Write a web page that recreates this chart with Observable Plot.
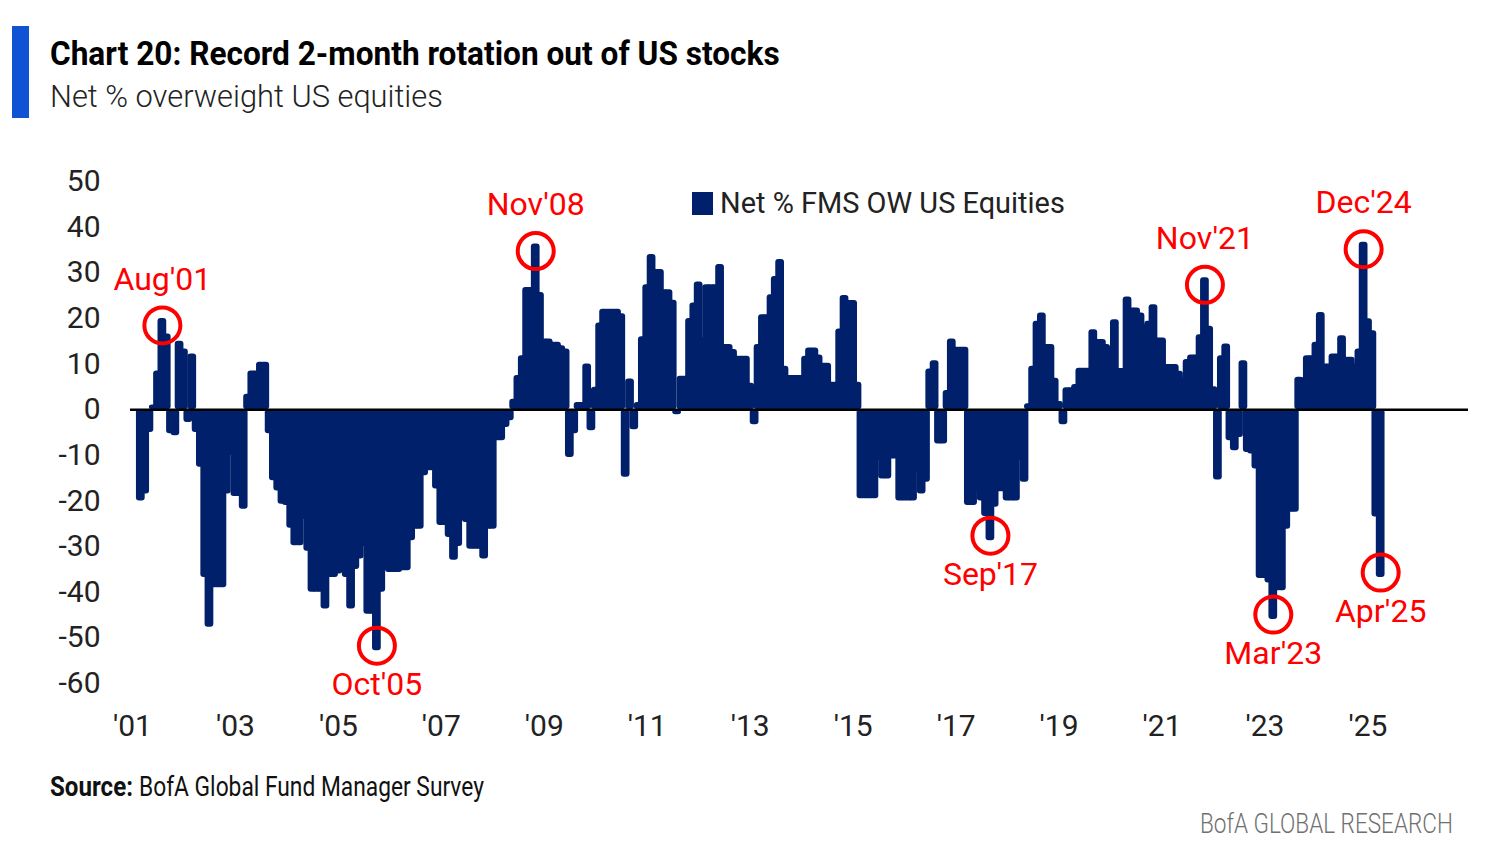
<!DOCTYPE html>
<html>
<head>
<meta charset="utf-8">
<script src="https://cdn.jsdelivr.net/npm/d3@7"></script>
<script src="https://cdn.jsdelivr.net/npm/@observablehq/plot@0.6"></script>
<style>
  html, body { margin: 0; padding: 0; background: #fff; }
  #page { position: relative; width: 1487px; height: 851px; overflow: hidden; font-family: Roboto, "Noto Sans", sans-serif; }
  #header { position: absolute; left: 0; top: 0; }
  #chart { position: absolute; left: 0; top: 140px; }
  #legend { position: absolute; left: 0; top: 170px; }
  #footer { position: absolute; left: 0; top: 760px; }
  svg text { font-family: Roboto, "Noto Sans", sans-serif; }
</style>
</head>
<body>
<div id="page">
  <svg id="header" width="1487" height="130">
    <rect x="12" y="26" width="17" height="92" fill="#0f52d3"></rect>
    <text id="t-title" data-x="50" data-y="65" data-w="730" font-size="34" font-weight="700" fill="#000">Chart 20: Record 2-month rotation out of US stocks</text>
    <text id="t-sub" data-x="50" data-y="107" data-w="393" font-size="31" font-weight="300" fill="#222">Net % overweight US equities</text>
  </svg>
  <div id="chart"></div>
  <svg id="legend" width="1487" height="60">
    <rect x="692" y="22" width="21" height="23" fill="#00206b"></rect>
    <text id="t-legend" data-x="720" data-y="43" data-w="345" font-size="30" fill="#222">Net % FMS OW US Equities</text>
  </svg>
  <svg id="footer" width="1487" height="91">
    <text id="t-src1" data-x="50" data-y="36" data-w="83" font-size="28" font-weight="700" fill="#111">Source:</text>
    <text id="t-src2" data-x="139" data-y="36" data-w="345" font-size="28" fill="#111">BofA Global Fund Manager Survey</text>
    <text id="t-brand" data-x="1200" data-y="73" data-w="253" font-size="28" font-weight="300" fill="#707070">BofA GLOBAL RESEARCH</text>
  </svg>
</div>
<script>
// Net % FMS OW US Equities, monthly, first value = March 2001
const firstYear = 2001;
const firstMonthIndex = 2; // March
const monthlyValues = [
  /* 2001 */ -20, -18.5, -5, 1, 8.5, 20, 16.6, -5.3, -5.7, 15,
  /* 2002 */ 13.3, -2.8, 12.2, -5, -12.6, -36.8, -47.7, -39, -39, -39, -18.5, -10,
  /* 2003 */ -19, -19, -21.8, 3.4, 8.5, 8.5, 10.4, 10.4, -5.3, -15.6, -17.8, -20.7,
  /* 2004 */ -21, -26, -29.8, -29.8, -24, -31, -40, -40, -40, -43.7, -36.8, -36.8,
  /* 2005 */ -36, -30, -36.8, -43.7, -35, -32.7, -30, -44.8, -44.8, -52.8, -40, -33,
  /* 2006 */ -35.7, -35.7, -35.7, -35.3, -35.3, -28.7, -26.2, -26.2, -14.5, -13.4, -13.4, -17.4,
  /* 2007 */ -25.4, -25.4, -28, -33, -30, -22.9, -24.7, -30.6, -30.6, -30.6, -32.7, -26.2,
  /* 2008 */ -26.2, -6.8, -6.8, -3.9, -2.4, 2.3, 7.5, 11.8, 26.8, 26.8, 36.3, 25.7,
  /* 2009 */ 15.5, 15.5, 14.8, 14.8, 14, 13.3, -10.5, -5.3, 1.6, 1.6, 10, -4.6,
  /* 2010 */ 4.9, 19, 22, 22, 22, 22, 21, -14.8, 6.7, -4.4, 1.6, 16,
  /* 2011 */ 27.4, 34, 30.7, 30.7, 26.3, 26.3, 24, -1.1, 7.3, 7.3, 20, 23.4,
  /* 2012 */ 28, 15.7, 27.4, 27.4, 27.4, 31.8, 14.3, 14.3, 13.2, 11.7, 11.7, 11.7,
  /* 2013 */ 5.8, -3.3, 14.3, 20.8, 20.8, 25.2, 29.2, 32.9, 9.5, 7.5, 7.5, 7.5,
  /* 2014 */ 7.5, 11.7, 13.5, 13.5, 12, 10.2, 10.2, 6, 6, 17.7, 25, 23.9,
  /* 2015 */ 23.9, 6, -19.5, -19.5, -19.5, -19.5, -11.1, -15.2, -15.2, -10.8, -10.8, -20,
  /* 2016 */ -20, -20, -20, -13.7, -18.5, -15.9, 8.9, 10.7, -7.5, -7.5, 4.2, 15.5,
  /* 2017 */ 13.7, 13.7, 13.7, -21, -21, -18, -20, -23.4, -28.7, -21.4, -18, -18,
  /* 2018 */ -20, -20, -20, -11.1, -15.9, 1.3, 9.5, 19.4, 21.2, 14.3, 14.3, 6.9,
  /* 2019 */ 1.8, -3.3, 4.8, 4.8, 5.5, 9.1, 9.1, 9.1, 17.5, 15.4, 15.4, 14.3,
  /* 2020 */ 9.1, 19.7, 9, 9, 24.7, 22.3, 22.3, 21.2, 18.6, 19.4, 23, 15.7,
  /* 2021 */ 15.7, 9.9, 9.9, 9.9, 8.4, 6.9, 11, 12, 12, 16.4, 28.9, 18.3,
  /* 2022 */ 5, -15.4, 11.8, 14.4, -6.8, -9, -6.1, 10.7, -9.4, -9.7, -13, -37,
  /* 2023 */ -37, -38, -46, -39.7, -39.7, -26.2, -22.5, -22.5, 7.1, 7, 11.8, 11.8,
  /* 2024 */ 14.8, 21.3, 10, 10, 12.2, 12.2, 16.2, 11.5, 11.5, 10, 13.3, 36.7,
  /* 2025 */ 19.9, 17.3, -23.5, -36.8
];

const yTicks = [50, 40, 30, 20, 10, 0, -10, -20, -30, -40, -50, -60];
const yTickLabels = ["50", "40", "30", "20", "10", "0", "-10", "-20", "-30", "-40", "-50", "-60"];
const xTickYears = [2001, 2003, 2005, 2007, 2009, 2011, 2013, 2015, 2017, 2019, 2021, 2023, 2025];
const xTickLabels = ["'01", "'03", "'05", "'07", "'09", "'11", "'13", "'15", "'17", "'19", "'21", "'23", "'25"];

const annoMonths = ["2001-08", "2005-10", "2008-11", "2017-09", "2021-11", "2023-03", "2024-12", "2025-04"];
const annoLabels = ["Aug'01", "Oct'05", "Nov'08", "Sep'17", "Nov'21", "Mar'23", "Dec'24", "Apr'25"];

const data = monthlyValues.map((v, i) => ({
  date: new Date(Date.UTC(firstYear, firstMonthIndex + i, 1)),
  value: v
}));
const byKey = new Map(data.map(d => [d.date.toISOString().slice(0, 7), d]));
const anno = annoMonths.map((k, i) => ({ date: byKey.get(k).date, value: byKey.get(k).value, label: annoLabels[i] }));
const annoUp = anno.filter(d => d.value > 0);
const annoDown = anno.filter(d => d.value < 0);

const navy = "#00206b";
const red = "#ff0000";

const chart = Plot.plot({
  width: 1487,
  height: 620,
  marginLeft: 130,
  marginRight: 19,
  marginTop: 41,
  marginBottom: 77,
  style: { fontFamily: "Roboto, 'Noto Sans', sans-serif", color: "#222", background: "transparent", overflow: "visible" },
  x: { type: "utc", domain: [new Date(Date.UTC(2001, 0, 1)), new Date(Date.UTC(2025, 0, 1))], range: [132, 1367.5] },
  y: { domain: [-60, 50], range: [543, 41] },
  marks: [
    Plot.rect(data, {
      x1: d => d3.utcDay.offset(d.date, -31),
      x2: d => d3.utcDay.offset(d.date, 31),
      y1: 0,
      y2: "value",
      fill: navy,
      rx: 3
    }),
    Plot.ruleY([0], { stroke: "#000", strokeWidth: 2.5 }),
    Plot.axisY({
      ticks: yTicks, tickSize: 0, tickPadding: 30, label: null, fontSize: 30,
      tickFormat: d => yTickLabels[yTicks.indexOf(d)]
    }),
    Plot.axisX({
      ticks: xTickYears.map(y => new Date(Date.UTC(y, 0, 1))), tickSize: 0, tickPadding: 31, label: null, fontSize: 30,
      tickFormat: d => xTickLabels[xTickYears.indexOf(d.getUTCFullYear())]
    }),
    Plot.dot(annoUp, { x: "date", y: "value", r: 18, stroke: red, strokeWidth: 4, fill: "none", dy: 7 }),
    Plot.dot(annoDown, { x: "date", y: "value", r: 18, stroke: red, strokeWidth: 4, fill: "none", dy: -5 }),
    Plot.text(annoUp, { x: "date", y: "value", text: "label", fill: red, fontSize: 32, dy: -39 }),
    Plot.text(annoDown, { x: "date", y: "value", text: "label", fill: red, fontSize: 32, dy: 34 })
  ]
});
document.getElementById("chart").appendChild(chart);

// squeeze header/legend/footer texts horizontally to the reference widths
document.querySelectorAll("text[data-w]").forEach(el => {
  const x = +el.getAttribute("data-x");
  const y = +el.getAttribute("data-y");
  const target = +el.getAttribute("data-w");
  const natural = el.getComputedTextLength() || target;
  el.setAttribute("transform", `translate(${x},${y}) scale(${(target / natural).toFixed(4)},1)`);
});
</script>
</body>
</html>
